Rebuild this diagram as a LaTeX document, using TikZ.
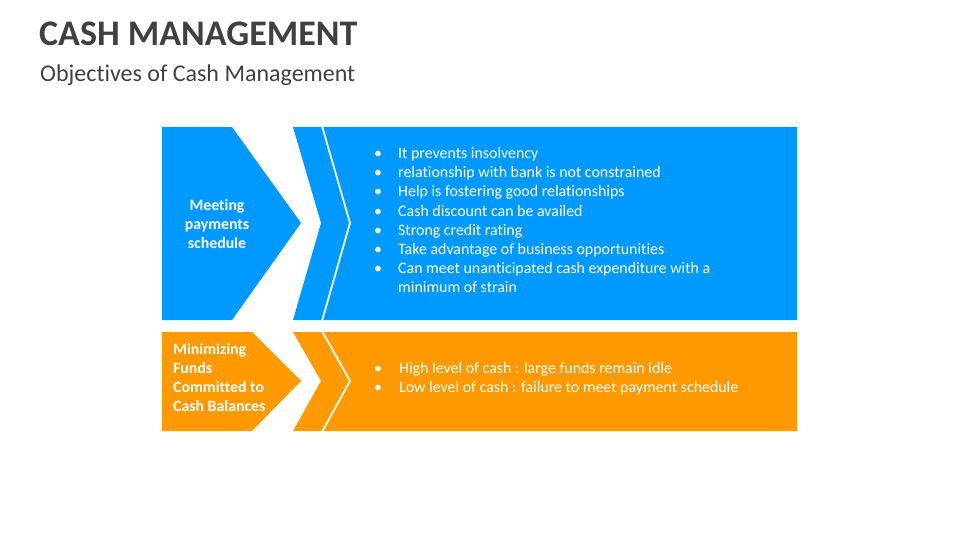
\documentclass[tikz,border=0pt]{standalone}
\usepackage{fontspec}
\setmainfont{Carlito}[Ligatures=CommonOff]
\definecolor{cblue}{RGB}{0,153,255}
\definecolor{corange}{RGB}{255,153,0}
\definecolor{ctitle}{RGB}{64,64,64}
\begin{document}
\begin{tikzpicture}[x=1pt,y=-1pt,
  whiteline/.style={draw=white,line width=1.8pt,line join=miter},
  lbl/.style={text=white,inner sep=0pt,font=\fontsize{15.8}{19.2}\selectfont\bfseries},
  bul/.style={text=white,inner sep=0pt,anchor=base west,font=\fontsize{15.9}{19.2}\selectfont}]
\useasboundingbox[fill=white] (0,0) rectangle (960,540);
% titles
\node[anchor=base west,inner sep=0pt,text=ctitle,font=\fontsize{36}{42}\selectfont\bfseries] (title) at (39,46) {CASH MANAGEMENT};
\node[anchor=base west,inner sep=0pt,text=ctitle,font=\fontsize{24}{28}\selectfont] (sub) at (40,81.5) {Objectives of Cash Management};
% blue row
\fill[cblue] (162,127) -- (232,127) -- (301,223) -- (232,320) -- (162,320) -- cycle;
\fill[cblue] (293,127) -- (797,127) -- (797,320) -- (293,320) -- (321,223) -- cycle;
\draw[whiteline] (322,126) -- (350,223) -- (322,321);
% orange row
\fill[corange] (162,332) -- (252,332) -- (301,381) -- (252,431) -- (162,431) -- cycle;
\fill[corange] (293,332) -- (797,332) -- (797,431) -- (293,431) -- (321,381) -- cycle;
\draw[whiteline] (322,331) -- (350,381) -- (322,432);
% labels
\node[lbl,align=center] (l1) at (217,224) {Meeting\\payments\\schedule};
\node[lbl,anchor=base west] (l2) at (173,354) {\begin{tabular}[t]{@{}l@{}}Minimizing\\Funds\\Committed to\\Cash Balances\end{tabular}};
% bullets
\node[bul] (b1) at (374,158.5) {\begin{tabular}[t]{@{}p{24pt}@{}l@{}}
\textbullet & It prevents insolvency\\
\textbullet & relationship with bank is not constrained\\
\textbullet & Help is fostering good relationships\\
\textbullet & Cash discount can be availed\\
\textbullet & Strong credit rating\\
\textbullet & Take advantage of business opportunities\\
\textbullet & Can meet unanticipated cash expenditure with a\\
 & minimum of strain
\end{tabular}};
\node[bul] (b2) at (374,373) {\begin{tabular}[t]{@{}p{25pt}@{}l@{}}
\textbullet & High level of cash : large funds remain idle\\
\textbullet & Low level of cash : failure to meet payment schedule
\end{tabular}};
\end{tikzpicture}
\end{document}
